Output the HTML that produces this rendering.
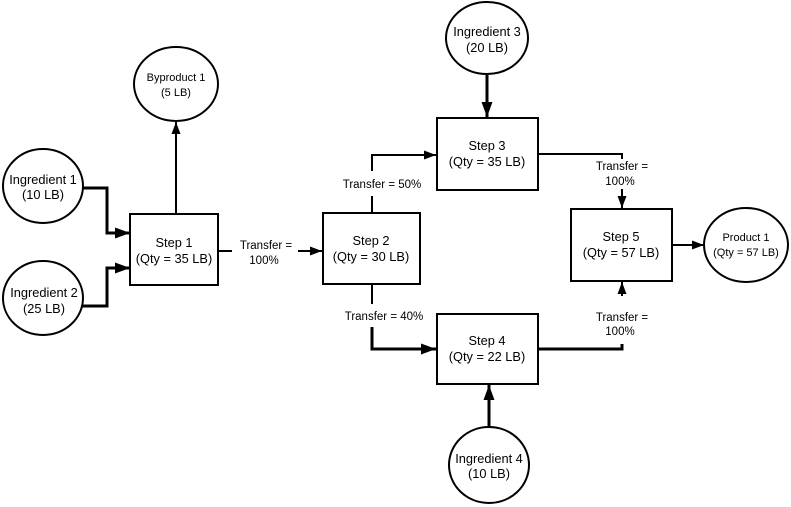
<!DOCTYPE html>
<html><head><style>
html,body{margin:0;padding:0;background:#fff;}
svg{display:block;}
text{font-family:"Liberation Sans",Arial,sans-serif;fill:#000;}
.n{font-size:12.8px;}
.t{font-size:11.5px;}
.s{font-size:11px;}
</style></head><body>
<svg width="791" height="507" viewBox="0 0 791 507" xmlns="http://www.w3.org/2000/svg">
<defs>
<marker id="a" markerWidth="12" markerHeight="9" refX="12" refY="4.5" orient="auto" markerUnits="userSpaceOnUse">
<path d="M0,0 L12,4.5 L0,9 z" fill="#000"/>
</marker>
<marker id="b" markerWidth="15" markerHeight="11" refX="15" refY="5.5" orient="auto" markerUnits="userSpaceOnUse">
<path d="M0,0 L15,5.5 L0,11 z" fill="#000"/>
</marker>
</defs>
<g fill="none" stroke="#000" stroke-width="2">
<ellipse cx="176" cy="84" rx="42" ry="37"/>
<ellipse cx="43" cy="186" rx="40" ry="37"/>
<ellipse cx="43" cy="298" rx="40" ry="37"/>
<ellipse cx="487" cy="38" rx="41" ry="36"/>
<ellipse cx="489" cy="465" rx="40" ry="38"/>
<ellipse cx="746" cy="245" rx="42" ry="37"/>
<rect x="130" y="214" width="88" height="71"/>
<rect x="323" y="213" width="97" height="71"/>
<rect x="437" y="118" width="101" height="72"/>
<rect x="437" y="314" width="101" height="70"/>
<rect x="571" y="209" width="101" height="72"/>
</g>
<g fill="none" stroke="#000" stroke-width="2">
<polyline points="82,188 107,188 107,233 130,233" stroke-width="3" marker-end="url(#b)"/>
<polyline points="82,306 107,306 107,268 130,268" stroke-width="3" marker-end="url(#b)"/>
<line x1="176" y1="213" x2="176" y2="122" marker-end="url(#a)"/>
<line x1="219" y1="251" x2="232" y2="251"/>
<line x1="298" y1="251" x2="322" y2="251" marker-end="url(#a)"/>
<line x1="372" y1="213" x2="372" y2="196"/>
<polyline points="372,171 372,155 436,155" marker-end="url(#a)"/>
<line x1="372" y1="285" x2="372" y2="304"/>
<polyline points="372,327 372,349 436,349" stroke-width="3" marker-end="url(#b)"/>
<polyline points="538,154 622,154 622,159"/>
<line x1="622" y1="189" x2="622" y2="208" marker-end="url(#a)"/>
<polyline points="538,349 622,349 622,344" stroke-width="3"/>
<line x1="622" y1="296" x2="622" y2="282" marker-end="url(#a)"/>
<line x1="672" y1="245" x2="704" y2="245" marker-end="url(#a)"/>
<line x1="487" y1="75" x2="487" y2="117" stroke-width="3" marker-end="url(#b)"/>
<line x1="489" y1="427" x2="489" y2="385" stroke-width="3" marker-end="url(#b)"/>
</g>
<g text-anchor="middle">
<text class="s" x="176" y="81">Byproduct 1</text><text class="s" x="176" y="96">(5 LB)</text>
<text class="n" x="43" y="184">Ingredient 1</text><text class="n" x="43" y="199">(10 LB)</text>
<text class="n" x="44" y="297">Ingredient 2</text><text class="n" x="44" y="313">(25 LB)</text>
<text class="n" x="487" y="36">Ingredient 3</text><text class="n" x="487" y="52">(20 LB)</text>
<text class="n" x="489" y="463">Ingredient 4</text><text class="n" x="489" y="478">(10 LB)</text>
<text class="s" x="746" y="241">Product 1</text><text class="s" x="746" y="256">(Qty = 57 LB)</text>
<text class="n" x="174" y="247">Step 1</text><text class="n" x="174" y="263">(Qty = 35 LB)</text>
<text class="n" x="371" y="245">Step 2</text><text class="n" x="371" y="261">(Qty = 30 LB)</text>
<text class="n" x="487" y="150">Step 3</text><text class="n" x="487" y="166">(Qty = 35 LB)</text>
<text class="n" x="487" y="345">Step 4</text><text class="n" x="487" y="361">(Qty = 22 LB)</text>
<text class="n" x="621" y="241">Step 5</text><text class="n" x="621" y="257">(Qty = 57 LB)</text>
<text class="t" x="266" y="249">Transfer =</text><text class="t" x="264" y="264">100%</text>
<text class="t" x="382" y="188">Transfer = 50%</text>
<text class="t" x="384" y="320">Transfer = 40%</text>
<text class="t" x="622" y="170">Transfer =</text><text class="t" x="620" y="185">100%</text>
<text class="t" x="622" y="321">Transfer =</text><text class="t" x="620" y="335">100%</text>
</g>
</svg>
</body></html>
